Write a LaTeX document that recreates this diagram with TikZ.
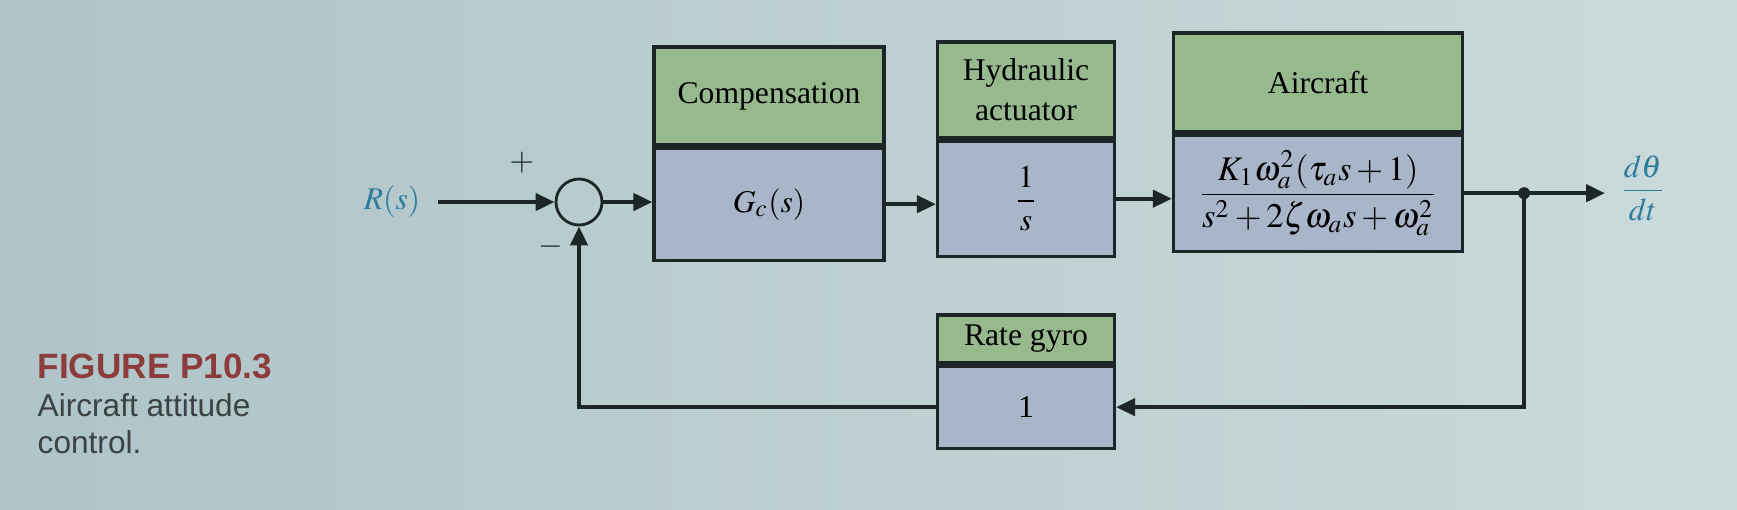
\documentclass[tikz,border=0pt]{standalone}
\usepackage{amsmath}
\usepackage{mathptmx}
\usepackage[no-math]{fontspec}
\setmainfont{Liberation Serif}
\newfontfamily\capfont{Liberation Sans}
\usetikzlibrary{positioning,arrows.meta}

\definecolor{bgleft}{HTML}{AFC4C9}
\definecolor{bgright}{HTML}{CBDADA}
\definecolor{titlegreen}{HTML}{97B98E}
\definecolor{tfblue}{HTML}{A9B6CA}
\definecolor{inkline}{HTML}{1C2626}
\definecolor{signal}{HTML}{2D7C9C}
\definecolor{figred}{HTML}{8C3C3A}
\definecolor{captext}{HTML}{3A4242}

\def\boxline{0.9pt}

\begin{document}
\begin{tikzpicture}[x=0.1mm,y=-0.1mm,node distance=0pt,
    font=\fontsize{9}{11.4}\selectfont,
    >={Triangle[length=1.9mm,width=1.7mm]}]
    \tikzstyle{title}=[draw=inkline,line width=\boxline,fill=titlegreen,inner sep=0pt,align=center]
    \tikzstyle{tf}=[draw=inkline,line width=\boxline,fill=tfblue,inner sep=0pt]
    \tikzstyle{wire}=[draw=inkline,line width=1.2pt]
    \tikzstyle{sumj}=[circle,draw=inkline,line width=0.8pt,minimum size=4.6mm,inner sep=0pt]
    \tikzstyle{sig}=[text=signal,inner sep=0pt]

    \shade[left color=bgleft,right color=bgright] (0,0) rectangle (1737,509);
    \useasboundingbox (0,0) rectangle (1737,509);

    % forward path
    \node[title, minimum width=23mm, minimum height=9.8mm] (comp-t) at (769,96) {Compensation};
    \node[tf, minimum width=23mm, minimum height=11.2mm, below=of comp-t] (comp-b) {$G_c(s)$};

    \node[title, minimum width=17.7mm, minimum height=9.6mm] (hyd-t) at (1026,90) {Hydraulic\\actuator};
    \node[tf, minimum width=17.7mm, minimum height=11.5mm, below=of hyd-t] (hyd-b) {$\dfrac{1}{s}$};

    \node[title, minimum width=28.9mm, minimum height=9.9mm] (air-t) at (1318,82.5) {Aircraft};
    \node[tf, minimum width=28.9mm, minimum height=11.6mm, below=of air-t, font=\fontsize{9.8}{11}\selectfont] (air-b)
        {$\dfrac{K_1\omega_a^2(\tau_a s+1)}{s^2+2\zeta\omega_a s+\omega_a^2}$};

    % feedback path
    \node[title, minimum width=17.7mm, minimum height=4.8mm] (gyro-t) at (1026,339) {Rate gyro};
    \node[tf, minimum width=17.7mm, minimum height=8.2mm, below=of gyro-t] (gyro-b) {1};

    \node[sumj] (sum) at (579,202) {};
    \node[sig] (R) at (392,202) {$R(s)$};
    \node[text=inkline] (plus) at (522,163) {$+$};
    \node[text=inkline] (minus) at (551,247) {$-$};

    \coordinate[right=6mm of air-b.east] (tap);
    \node[sig, anchor=west] (rate) at (1619,188) {$\dfrac{d\theta}{dt}$};

    \draw[wire,->,shorten <=1.7mm] (R) -- (sum);
    \foreach \src/\dst in {sum/comp-b, comp-b/hyd-b, hyd-b/air-b}
        \draw[wire,->] (\src.east) -- (\src.east -| \dst.west);
    \draw[wire,->,shorten >=1.4mm] (air-b.east) -- (tap -| rate.west);
    \fill[inkline] (tap) circle (0.6mm);
    \draw[wire,->] (tap) |- (gyro-b.east);
    \draw[wire,->] (gyro-b.west) -| (sum.south);

    \node[anchor=west, align=left, inner sep=0pt, text=captext, font=\capfont\fontsize{9}{10.6}\selectfont] (caption) at (37,404)
        {{\fontsize{10}{10.6}\selectfont\bfseries\color{figred}FIGURE P10.3}\\Aircraft attitude\\control.};
\end{tikzpicture}
\end{document}
